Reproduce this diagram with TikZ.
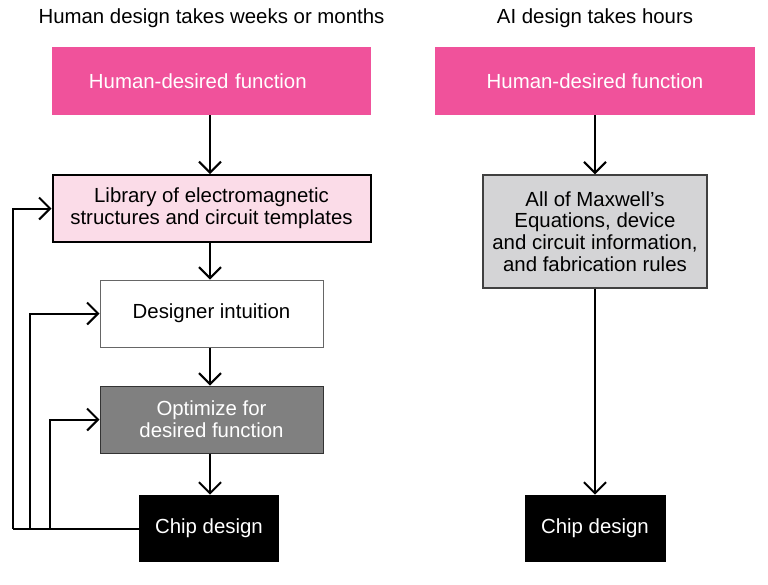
\documentclass[tikz,border=0pt]{standalone}
\usepackage{fontspec}
\setmainfont{Liberation Sans}
\usepackage{xcolor}
\usetikzlibrary{positioning,arrows.meta,calc}

\definecolor{hotpink}{HTML}{F0529B}
\definecolor{palepink}{HTML}{FBDCE8}
\definecolor{midgrey}{HTML}{808080}
\definecolor{lightgrey}{HTML}{D4D4D6}

\begin{document}
\begin{tikzpicture}[x=0.5pt,y=-0.5pt,
  font=\fontsize{10.2}{10.8}\selectfont,
  box/.style={rectangle, inner sep=0pt, align=center, minimum height=33.5pt},
  arr/.style={-{Straight Barb[length=5.5pt,width=11pt]}, line width=1pt},
  fbline/.style={line width=1pt}]
% 1 unit = 1 px of the 768 x 585 layout, y pointing down
\useasboundingbox (0,0) rectangle (768,585);
\node (titleL) at (211.5,18) {Human design takes weeks or months};
\node (titleR) at (595,18) {AI design takes hours};
% left column
\node[box, fill=hotpink, text=white, minimum width=159.5pt, minimum height=34pt,
  inner xsep=18.5pt, text width=122.5pt, align=left] (wantL) at (211.5,81) {Human-desired function};
\node[box, fill=palepink, draw=black, line width=1pt, minimum width=159pt] (lib) at (211.5,208.5) {Library of electromagnetic\\structures and circuit templates};
\node[box, fill=white, draw=black!60, line width=0.5pt, minimum width=111.5pt] (intuit) at (211.5,313.5) {Designer intuition};
\node[box, fill=midgrey, draw=black!80, line width=0.5pt, text=white, minimum width=111.5pt] (optim) at (211.5,419.5) {Optimize for\\desired function};
\node[box, fill=black, text=white, minimum width=70pt] (chipL) at (209,528.5) {Chip design};
% right column
\node[box, fill=hotpink, text=white, minimum width=160pt, minimum height=34pt] (wantR) at (595,81) {Human-desired function};
\node[box, fill=lightgrey, draw=black!75, line width=0.7pt, minimum width=112pt, minimum height=56.5pt] (maxw) at (595,231.5) {All of Maxwell’s\\Equations, device\\and circuit information,\\and fabrication rules};
\node[box, fill=black, text=white, minimum width=70.5pt] (chipR) at (595,528.5) {Chip design};
% forward arrows
\draw[arr] (wantL.south -| 210,0) -- (lib.north -| 210,0);
\draw[arr] (lib.south -| 210,0) -- (intuit.north -| 210,0);
\draw[arr] (intuit.south -| 210,0) -- (optim.north -| 210,0);
\draw[arr] (optim.south -| 210,0) -- (chipL.north -| 210,0);
\draw[arr] (wantR.south) -- (maxw.north);
\draw[arr] (maxw.south) -- (chipR.north);
% feedback loops
\coordinate (fbA) at (13,528.5);
\coordinate (fbB) at (30,528.5);
\coordinate (fbC) at (50,528.5);
\draw[fbline] (chipL.west) -- (fbA);
\draw[arr] (fbA) |- (lib.west);
\draw[arr] (fbB) |- (intuit.west);
\draw[arr] (fbC) |- (optim.west);
\end{tikzpicture}
\end{document}
